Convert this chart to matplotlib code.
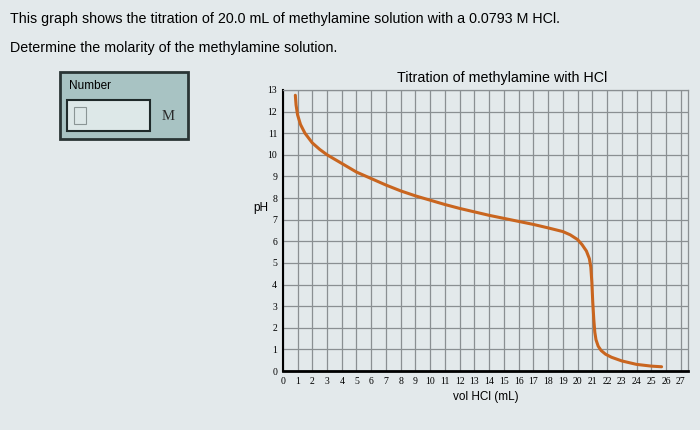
import matplotlib.pyplot as plt
from matplotlib.patches import Rectangle

# titration curve
vol_hcl = [0.85, 0.9, 1.0, 1.2, 1.5, 2, 2.5, 3, 4, 5, 6, 7, 8, 9, 10, 11, 12, 13, 14,
           15, 16, 17, 18, 19, 19.5, 20, 20.3, 20.6, 20.8, 20.9, 20.97, 21.03, 21.1,
           21.17, 21.25, 21.4, 21.6, 21.9, 22.3, 23, 24, 25, 25.7]
ph = [12.75, 12.3, 11.85, 11.4, 11.0, 10.55, 10.25, 10.0, 9.6, 9.2, 8.9, 8.6, 8.33,
      8.1, 7.9, 7.7, 7.52, 7.36, 7.2, 7.06, 6.92, 6.78, 6.62, 6.45, 6.3, 6.08, 5.85,
      5.55, 5.2, 4.8, 4.1, 3.2, 2.4, 1.8, 1.45, 1.15, 0.95, 0.78, 0.64, 0.47, 0.31,
      0.23, 0.2]
x_ticks = list(range(0, 28))
y_ticks = list(range(0, 14))

bg = "#e3e9eb"
plt.rcParams["font.family"] = ["Liberation Sans", "DejaVu Sans"]

fig = plt.figure(figsize=(7, 4.3), dpi=100, facecolor=bg)

fig.text(0.014, 0.955, "This graph shows the titration of 20.0 mL of methylamine solution with a 0.0793 M HCl.",
         fontsize=10.3, va="center", ha="left")
fig.text(0.014, 0.888, "Determine the molarity of the methylamine solution.",
         fontsize=10.3, va="center", ha="left")

# answer box
fig.patches.append(Rectangle((60 / 700, 1 - 139 / 430), 128 / 700, 67 / 430,
                             transform=fig.transFigure, facecolor="#a8c3c3",
                             edgecolor="#2a3535", linewidth=2))
fig.patches.append(Rectangle((67 / 700, 1 - 131 / 430), 83 / 700, 31 / 430,
                             transform=fig.transFigure, facecolor="#dde8e8",
                             edgecolor="#1f2a2a", linewidth=1.5))
fig.patches.append(Rectangle((74 / 700, 1 - 124 / 430), 12 / 700, 17 / 430,
                             transform=fig.transFigure, facecolor="none",
                             edgecolor="#8a9595", linewidth=0.8))
fig.text(69 / 700, 1 - 86 / 430, "Number", fontsize=8.5, va="center", ha="left")
fig.text(168 / 700, 1 - 117 / 430, "M", fontsize=10.5, va="center", ha="center",
         family="Liberation Serif", color="#2a2a2a")

ax = fig.add_axes([0.404, 0.137, 0.579, 0.654])
ax.set_facecolor(bg)
ax.plot(vol_hcl, ph, color="#c9651f", linewidth=2.2, solid_capstyle="round",
        solid_joinstyle="round", zorder=3)

ax.set_xlim(0, 27.5)
ax.set_ylim(0, 13)
ax.set_xticks(x_ticks)
ax.set_yticks(y_ticks)
ax.set_xticklabels([str(v) for v in x_ticks], family="Liberation Serif", fontsize=7)
ax.set_yticklabels([str(v) for v in y_ticks], family="Liberation Serif", fontsize=7)
ax.tick_params(length=0, pad=4)
ax.grid(True, color="#8a8f92", linewidth=0.9)
ax.set_axisbelow(True)

for side in ["top", "right"]:
    ax.spines[side].set_color("#8a8f92")
    ax.spines[side].set_linewidth(0.9)
ax.spines["left"].set_linewidth(1.5)
ax.spines["bottom"].set_linewidth(2)

ax.set_title("Titration of methylamine with HCl", fontsize=10.3, pad=6, x=0.54)
ax.set_xlabel("vol HCl (mL)", fontsize=8.5, labelpad=4)
ax.set_ylabel("pH", fontsize=8.5, rotation=0, va="center")
ax.yaxis.set_label_coords(-0.055, 0.58)

fig.savefig("out.png", dpi=100, facecolor=bg)
